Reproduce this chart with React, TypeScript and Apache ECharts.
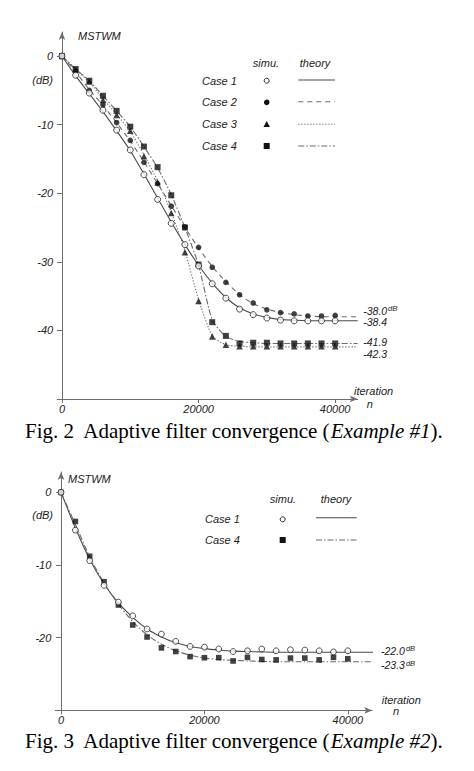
import { useEffect, useRef } from "react";
import * as echarts from "echarts";

// iteration index of every simulated point (both figures)
const iterations = [
	0, 2000, 4000, 6000, 8000, 10000, 12000, 14000, 16000, 18000, 20000, 22000, 24000, 26000, 28000, 30000, 32000,
	34000, 36000, 38000, 40000,
];
const fig2TheoryEnd = 43300;
const fig3TheoryEnd = 43800;

// Fig. 2 (Example #1), simulation, dB
const fig2Case1Simu = [0, -2.8, -5.4, -7.9, -10.8, -13.7, -17.3, -20.9, -24.4, -27.5, -30.6, -33.2, -35.3, -36.9, -37.7, -38.2, -38.5, -38.6, -38.6, -38.6, -38.6];
const fig2Case2Simu = [0, -2.2, -5.0, -7.1, -9.7, -12.3, -15.5, -18.6, -21.9, -24.9, -27.9, -30.8, -33.0, -34.8, -36.0, -37.0, -37.4, -37.6, -37.9, -37.9, -37.8];
const fig2Case3Simu = [0, -2.0, -3.7, -6.4, -8.6, -10.9, -14.6, -18.4, -22.9, -28.6, -35.7, -40.9, -42.1, -42.3, -42.3, -42.3, -42.3, -42.3, -42.3, -42.3, -42.3];
const fig2Case4Simu = [0, -1.9, -3.6, -5.8, -8.0, -10.3, -13.2, -16.2, -20.3, -25.0, -30.4, -38.8, -40.8, -41.9, -41.8, -41.8, -41.9, -41.9, -41.9, -41.9, -41.9];

// Fig. 2 theory curves (same iterations + the tail point)
const fig2Case1Theory = [0, -2.9, -5.5, -8.1, -10.9, -13.8, -17.2, -20.7, -24.2, -27.5, -30.5, -33.1, -35.2, -36.7, -37.6, -38.1, -38.4, -38.5, -38.6, -38.6, -38.6, -38.6];
const fig2Case2Theory = [0, -2.3, -4.9, -7.2, -9.7, -12.4, -15.4, -18.6, -21.8, -25.0, -28.0, -30.7, -32.9, -34.8, -36.1, -36.9, -37.4, -37.7, -37.9, -38.0, -38.0, -38.0];
const fig2Case3Theory = [0, -1.9, -3.8, -6.2, -8.5, -11.0, -14.4, -18.2, -22.8, -28.4, -35.5, -40.8, -42.1, -42.3, -42.4, -42.4, -42.4, -42.4, -42.4, -42.4, -42.4, -42.4];
const fig2Case4Theory = [0, -1.9, -3.6, -5.8, -8.0, -10.3, -13.2, -16.3, -20.2, -25.0, -30.5, -38.5, -40.9, -41.6, -41.8, -41.9, -41.9, -41.9, -41.9, -41.9, -41.9, -41.9];

// Fig. 3 (Example #2)
const fig3Case1Simu = [0, -5.2, -9.4, -12.8, -15.1, -17.0, -18.8, -19.5, -20.5, -21.2, -21.3, -21.55, -21.9, -21.8, -21.55, -21.8, -21.65, -21.7, -21.8, -21.95, -21.8];
const fig3Case4Simu = [0, -4.0, -8.8, -12.3, -15.5, -18.25, -19.9, -21.4, -21.9, -22.6, -22.75, -22.75, -23.2, -22.7, -23.0, -23.05, -22.8, -22.8, -23.05, -22.7, -22.9];
const fig3Case1Theory = [0, -4.9, -9.2, -12.6, -15.2, -17.2, -18.8, -19.9, -20.7, -21.2, -21.5, -21.7, -21.85, -21.9, -21.95, -22.0, -22.0, -22.0, -22.0, -22.0, -22.0, -22.0];
const fig3Case4Theory = [0, -4.4, -8.9, -12.5, -15.4, -17.8, -19.6, -20.9, -21.8, -22.4, -22.8, -23.0, -23.1, -23.2, -23.25, -23.3, -23.3, -23.3, -23.3, -23.3, -23.3, -23.3];

const xTicks = [0, 20000, 40000];
const fig2YTicks = [0, -10, -20, -30, -40];
const fig3YTicks = [0, -10, -20];

const SANS = "'Liberation Sans', Arial, sans-serif";
const SERIF = "'Liberation Serif', 'Times New Roman', serif";
const TEXT = "#222";
const AXIS = "#6e6e6e";
const LINE = "#4a4a4a";
const LINE_LIGHT = "#6a6a6a";

const DASHED = [5, 4];
const DOTTED = [1.2, 1.8];
const DASHDOT = [6, 2, 1.5, 2];

const xAxisFor = (gridIndex: number, min: number, max: number) => ({
	type: "value",
	gridIndex,
	min,
	max,
	axisLine: { onZero: false, symbol: ["none", "arrow"], symbolSize: [5, 8], lineStyle: { color: AXIS, width: 1 } },
	axisTick: { show: true, customValues: xTicks, length: 4, lineStyle: { color: AXIS } },
	axisLabel: {
		customValues: xTicks,
		margin: 4,
		color: TEXT,
		fontStyle: "italic",
		fontFamily: SANS,
		fontSize: 11,
		lineHeight: 11,
		formatter: (v: number) => String(v),
	},
	splitLine: { show: false },
});

const yAxisFor = (gridIndex: number, min: number, max: number, ticks: number[]) => ({
	type: "value",
	gridIndex,
	min,
	max,
	axisLine: { show: true, onZero: true, symbol: ["none", "arrow"], symbolSize: [5, 8], lineStyle: { color: AXIS, width: 1 } },
	axisTick: { show: true, customValues: ticks, length: 5, lineStyle: { color: AXIS } },
	axisLabel: {
		customValues: ticks,
		margin: 4,
		color: TEXT,
		fontStyle: "italic",
		fontFamily: SANS,
		fontSize: 11,
		formatter: (v: number) => String(v),
	},
	splitLine: { show: false },
});

const simu = (grid: number, values: number[], symbol: string, size: number, filled: boolean, z: number) => ({
	type: "scatter",
	xAxisIndex: grid,
	yAxisIndex: grid,
	data: iterations.map((x, i) => [x, values[i]]),
	symbol,
	symbolSize: size,
	z,
	silent: true,
	itemStyle: filled ? { color: "#111" } : { color: "#fff", borderColor: "#222", borderWidth: 1 },
});

const theory = (
	grid: number,
	values: number[],
	end: number,
	type: any,
	color: string,
	label: string,
	dy: number,
	dist: number,
	sup: boolean,
) => ({
	type: "line",
	xAxisIndex: grid,
	yAxisIndex: grid,
	data: [...iterations, end].map((x, i) => [x, values[i]]),
	showSymbol: false,
	symbol: "none",
	smooth: 0.2,
	clip: false,
	silent: true,
	z: 1,
	lineStyle: { color, width: 1.1, type },
	endLabel: {
		show: true,
		distance: dist,
		offset: [0, dy],
		formatter: sup ? `{v|${label}}{s|dB}` : `{v|${label}}`,
		rich: {
			v: { fontSize: 10.5, fontStyle: "italic", fontFamily: SANS, color: TEXT, lineHeight: sup ? 12 : 8 },
			s: { fontSize: 7.5, fontStyle: "italic", fontFamily: SANS, color: TEXT, lineHeight: 2, verticalAlign: "top", padding: [0, 0, 0, 1] },
		},
	},
});

const txt = (x: number, y: number, text: string, align = "left", size = 11) => ({
	type: "text",
	x,
	y,
	silent: true,
	style: { text, fill: TEXT, fontSize: size, fontStyle: "italic", fontFamily: SANS, align, verticalAlign: "middle" },
});

const legendLine = (x1: number, x2: number, y: number, dash: any, color: string) => ({
	type: "line",
	silent: true,
	shape: { x1, y1: y, x2, y2: y },
	style: { stroke: color, lineWidth: 1.1, lineDash: dash === "solid" ? null : dash },
});

const openCircle = (cx: number, cy: number) => ({
	type: "circle",
	silent: true,
	shape: { cx, cy, r: 2.5 },
	style: { fill: "#fff", stroke: "#222", lineWidth: 1 },
});
const dot = (cx: number, cy: number) => ({ type: "circle", silent: true, shape: { cx, cy, r: 2.8 }, style: { fill: "#111" } });
const square = (cx: number, cy: number) => ({
	type: "rect",
	silent: true,
	shape: { x: cx - 3, y: cy - 3, width: 6, height: 6 },
	style: { fill: "#111" },
});
const triangle = (cx: number, cy: number) => ({
	type: "polygon",
	silent: true,
	shape: { points: [[cx, cy - 3.3], [cx + 3.2, cy + 2.6], [cx - 3.2, cy + 2.6]] },
	style: { fill: "#111" },
});

const caption = (y: number, fig: string, example: string) => ({
	type: "text",
	x: 25,
	y,
	silent: true,
	style: {
		text: `{n|Fig. ${fig}  Adaptive filter convergence (}{i|Example #${example}}{n|).}`,
		verticalAlign: "middle",
		rich: {
			n: { fontFamily: SERIF, fontSize: 21, lineHeight: 16, fill: "#000", color: "#000" },
			i: { fontFamily: SERIF, fontSize: 21, lineHeight: 16, fontStyle: "italic", fill: "#000", color: "#000" },
		},
	},
});

export default function App() {
	const ref = useRef<HTMLDivElement | null>(null);

	useEffect(() => {
		if (!ref.current) return;
		const chart = echarts.init(ref.current, undefined, { renderer: "svg" });

		const option: any = {
			animation: false,
			backgroundColor: "#fff",
			grid: [
				{ left: 57.2, top: 32, width: 300.5, height: 367 },
				{ left: 55.3, top: 472, width: 316.9, height: 238.4 },
			],
			xAxis: [xAxisFor(0, -700, 43300), xAxisFor(1, -800, 43400)],
			yAxis: [yAxisFor(0, -50, 3.5, fig2YTicks), yAxisFor(1, -30, 2.8, fig3YTicks)],
			series: [
				theory(0, fig2Case1Theory, fig2TheoryEnd, "solid", LINE, "-38.4", 1.5, 5.5, false),
				theory(0, fig2Case2Theory, fig2TheoryEnd, DASHED, LINE_LIGHT, "-38.0", -6, 5.5, true),
				theory(0, fig2Case3Theory, fig2TheoryEnd, DOTTED, LINE_LIGHT, "-42.3", 6.8, 5.5, false),
				theory(0, fig2Case4Theory, fig2TheoryEnd, DASHDOT, LINE_LIGHT, "-41.9", -1.7, 5.5, false),
				simu(0, fig2Case3Simu, "triangle", 6.5, true, 2),
				simu(0, fig2Case4Simu, "rect", 6, true, 3),
				simu(0, fig2Case2Simu, "circle", 5.6, true, 4),
				simu(0, fig2Case1Simu, "circle", 6, false, 5),

				theory(1, fig3Case1Theory, fig3TheoryEnd, "solid", LINE, "-22.0", -1.6, 8, true),
				theory(1, fig3Case4Theory, fig3TheoryEnd, DASHDOT, LINE_LIGHT, "-23.3", 3.3, 8, true),
				simu(1, fig3Case4Simu, "rect", 5.6, true, 3),
				simu(1, fig3Case1Simu, "circle", 5.8, false, 5),
			],
			graphic: [
				// Fig. 2 annotations
				txt(78, 36, "MSTWM"),
				txt(53, 80, "(dB)", "right"),
				txt(354, 390.7, "iteration"),
				txt(366.7, 404.3, "n"),
				txt(266, 62.7, "simu.", "center"),
				txt(315, 62.7, "theory", "center"),
				txt(202, 80.7, "Case 1"),
				txt(202, 102.3, "Case 2"),
				txt(202, 124.3, "Case 3"),
				txt(202, 146, "Case 4"),
				openCircle(266.7, 80.7),
				dot(266.7, 102.3),
				triangle(266.7, 124.3),
				square(266.7, 146),
				legendLine(298.3, 335, 80, "solid", LINE),
				legendLine(298.3, 335, 101.7, DASHED, LINE_LIGHT),
				legendLine(298.3, 335, 124.3, DOTTED, LINE_LIGHT),
				legendLine(298.3, 335, 146, DASHDOT, LINE_LIGHT),
				caption(431, "2", "1"),

				// Fig. 3 annotations
				txt(68, 479, "MSTWM"),
				txt(53, 515, "(dB)", "right"),
				txt(381.7, 700, "iteration"),
				txt(393, 710.7, "n"),
				txt(283, 499, "simu.", "center"),
				txt(336, 499, "theory", "center"),
				txt(205, 519.3, "Case 1"),
				txt(205, 540, "Case 4"),
				openCircle(282.7, 519.3),
				square(282.7, 540),
				legendLine(316, 356.7, 517.7, "solid", LINE),
				legendLine(316, 356.7, 540, DASHDOT, LINE_LIGHT),
				caption(741, "3", "2"),
			],
		};

		chart.setOption(option);
		return () => chart.dispose();
	}, []);

	return <div ref={ref} style={{ position: "absolute", left: 0, top: 0, width: 474, height: 771 }} />;
}
